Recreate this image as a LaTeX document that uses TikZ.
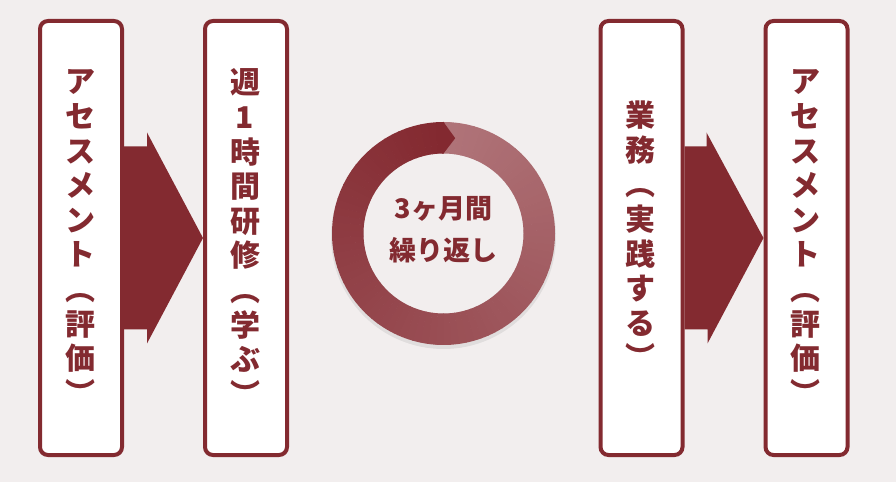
\documentclass[tikz,border=0pt]{standalone}
\usepackage{fontspec}
\newfontfamily\jp{Noto Sans CJK JP}
\usetikzlibrary{calc}
\pgfdeclarelayer{bg}
\pgfsetlayers{bg,main}
\definecolor{bgc}{HTML}{F2EEEE}
\definecolor{brd}{HTML}{832A30}
\definecolor{ringlight}{HTML}{B07479}
\definecolor{ringdark}{HTML}{832930}
\tikzset{
  box/.style={draw=brd, line width=4pt, fill=white, rounded corners=8pt,
    minimum width=82pt, minimum height=434pt, inner sep=0pt},
  vtext/.style={text=brd, align=center, inner sep=0pt,
    font=\jp\bfseries\fontsize{30}{34.6}\selectfont},
  ringtext/.style={text=brd, align=center, inner sep=0pt,
    font=\jp\bfseries\fontsize{27}{42}\selectfont},
  blockarrow/.style={fill=brd},
}
\begin{document}
\begin{tikzpicture}[x=1pt,y=1pt]
\useasboundingbox (0,0) rectangle (896,482);
\begin{pgfonlayer}{bg}
\fill[bgc] (0,0) rectangle (896,482);
\end{pgfonlayer}

% boxes
\node[box] (b1) at (81,244) {};
\node[box] (b2) at (246,244) {};
\node[box] (b3) at (641.5,244) {};
\node[box] (b4) at (806.5,244) {};

% texts
\node[vtext] (t1) at ([xshift=-1,yshift=1]b1.center) {ア\\セ\\ス\\メ\\ン\\ト\\︵\\評\\価\\︶};
\node[vtext] (t2) at ([xshift=-1,yshift=1]b2.center) {週\\1\\時\\間\\研\\修\\︵\\学\\ぶ\\︶};
\node[vtext] (t3) at ([xshift=-1,yshift=3]b3.center) {業\\務\\︵\\実\\践\\す\\る\\︶};
\node[vtext] (t4) at ([xshift=-1,yshift=1]b4.center) {ア\\セ\\ス\\メ\\ン\\ト\\︵\\評\\価\\︶};

% block arrows
\begin{pgfonlayer}{bg}
\fill[blockarrow] ([yshift=91.5]b1.east) -- ++(23,0) -- ++(0,14) -- (b2.west)
  -- ++(-56,-105.5) -- ++(0,14) -- ([yshift=-91.5]b1.east) -- cycle;
\fill[blockarrow] ([yshift=91.5]b3.east) -- ++(22,0) -- ++(0,14) -- (b4.west)
  -- ++(-56,-105.5) -- ++(0,14) -- ([yshift=-91.5]b3.east) -- cycle;
\end{pgfonlayer}

% ring
\coordinate (ring) at (443.5,248.5);
\fill[black,opacity=0.07,even odd rule] ([yshift=-3]ring) circle[radius=112.5] (ring) circle[radius=80];
\foreach \i in {0,...,89}{
  \pgfmathsetmacro{\a}{90-4*\i}
  \pgfmathsetmacro{\b}{90-4*\i-4.3}
  \pgfmathsetmacro{\p}{100*\i/89}
  \colorlet{segc}{ringdark!\p!ringlight}
  \fill[segc] ([shift={(\a:111.5)}]ring) arc[start angle=\a, end angle=\b, radius=111.5]
    -- ([shift={(\b:80)}]ring) arc[start angle=\b, end angle=\a, radius=80] -- cycle;
}
\fill[ringdark] ([shift={(91:111.5)}]ring) -- ([shift={(90:111.5)}]ring) -- ([shift={(83:96)}]ring)
  -- ([shift={(90:80)}]ring) -- ([shift={(91:80)}]ring) -- cycle;
\node[ringtext] (rt) at ([yshift=3.5]ring) {3ヶ月間\\繰り返し};
\end{tikzpicture}
\end{document}
